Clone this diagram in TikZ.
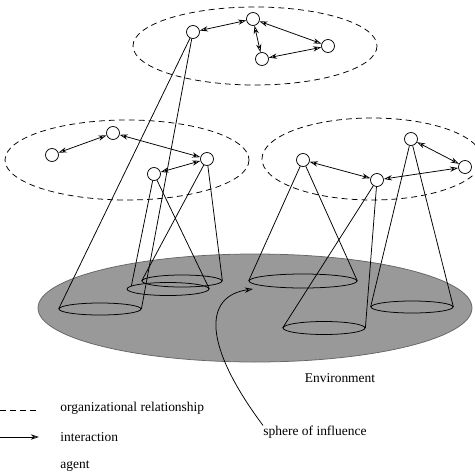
\documentclass[tikz,border=0pt]{standalone}
\usepackage{fontspec}
\setmainfont{Liberation Serif}
\usetikzlibrary{shapes.geometric,arrows.meta}

\tikzset{
  agent/.style={circle,draw,fill=white,minimum size=0.39cm,inner sep=0pt},
  sphere/.style={ellipse,draw,inner sep=0pt},
  orgrel/.style={dash pattern=on 5pt off 3.5pt},
  interact/.style={{Stealth[open,length=7pt,width=4.5pt]}-{Stealth[open,length=7pt,width=4.5pt]}},
  lbl/.style={font=\fontsize{11.5}{13}\selectfont,inner sep=0pt}
}

\begin{document}
\begin{tikzpicture}[x=0.03cm,y=-0.03cm,line width=0.65pt]
\useasboundingbox (0,0) rectangle (474,474);
 % environment:
\filldraw [fill=black!40,draw=black!60] (255,308) ellipse (217 and 54);
 % spheres of influence:
\node[sphere,minimum width=2.46cm,minimum height=0.36cm] (s1) at (100,309) {};
\node[sphere,minimum width=2.46cm,minimum height=0.39cm] (s2) at (168,289) {};
\node[sphere,minimum width=2.40cm,minimum height=0.36cm] (s3) at (182,281) {};
\node[sphere,minimum width=3.24cm,minimum height=0.42cm] (s4) at (303,281) {};
\node[sphere,minimum width=2.46cm,minimum height=0.36cm] (s5) at (412,307) {};
\node[sphere,minimum width=2.46cm,minimum height=0.39cm] (s6) at (324,328) {};
 % organizations:
\draw [orgrel] (255,46) ellipse (122 and 39);
\draw [orgrel] (127,160) ellipse (122 and 40);
\draw [orgrel] (372,159) ellipse (110 and 41);
 % agents, top group:
\node[agent] (a1) at (193,32) {};
\node[agent] (a2) at (253,19) {};
\node[agent] (a3) at (328,46) {};
\node[agent] (a4) at (262,59) {};
 % agents, left group:
\node[agent] (b1) at (52,155) {};
\node[agent] (b2) at (113,133) {};
\node[agent] (b3) at (207,159) {};
\node[agent] (b4) at (154,174) {};
 % agents, right group:
\node[agent] (c1) at (303,160) {};
\node[agent] (c2) at (377,180) {};
\node[agent] (c3) at (411,139) {};
\node[agent] (c4) at (465,167) {};
 % cones:
\draw (a1) -- (s1.west) (a1) -- (s1.east);
\draw (b4) -- (s2.175) (b4) -- (s2.east);
\draw (b3) -- (s3.west) (b3) -- (s3.east);
\draw (c1) -- (s4.west) (c1) -- (s4.east);
\draw (c3) -- (s5.west) (c3) -- (s5.east);
\draw (c2) -- (s6.west) (c2) -- (s6.east);
 % interactions:
\draw [interact] (a1) -- (a2);
\draw [interact] (a2) -- (a3);
\draw [interact] (a2) -- (a4);
\draw [interact] (a4) -- (a3);
\draw [interact] (b1) -- (b2);
\draw [interact] (b2) -- (b3);
\draw [interact] (b4) -- (b3);
\draw [interact] (c1) -- (c2);
\draw [interact] (c2) -- (c4);
\draw [interact] (c3) -- (c4);
 % labels:
\node[lbl] (env) at (340,378) {Environment};
\node[lbl,anchor=west] (soi) at (263,432) {sphere of influence};
\coordinate (soitip) at (253,289);
\draw [-{Stealth[open,length=7pt,width=4.5pt]}] (soi.north west) .. controls (203,345) and (203,296) .. (soitip);
 % legend:
\coordinate (d0) at (0,410);
\coordinate (d1) at (38,410);
\coordinate (i0) at (0,437);
\coordinate (i1) at (39,437);
\draw [orgrel] (d0) -- (d1);
\draw [-{Stealth[open,length=7pt,width=4.5pt]}] (i0) -- (i1);
\node[lbl,anchor=west] (korg) at (60,408) {organizational relationship};
\node[lbl,anchor=west] (kint) at (60,437) {interaction};
\node[lbl,anchor=west] (kag) at (60,466) {agent};
\end{tikzpicture}
\end{document}
